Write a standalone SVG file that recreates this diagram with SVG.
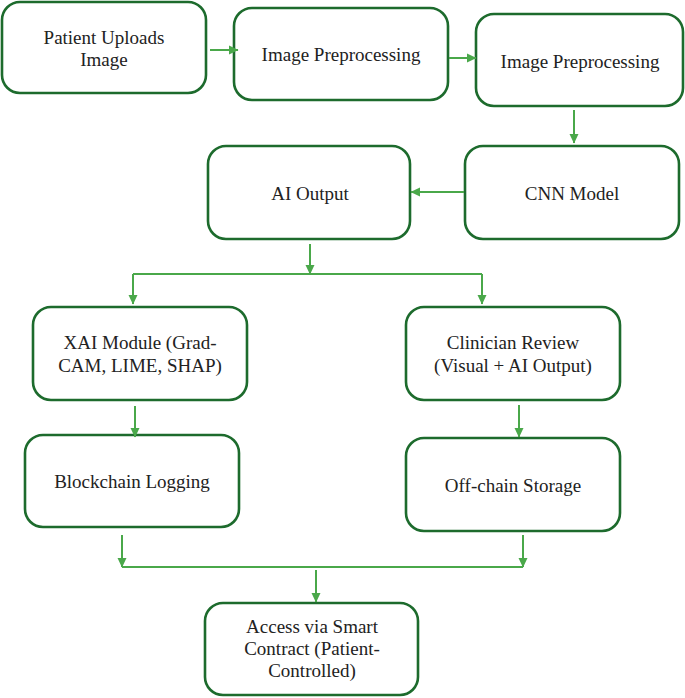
<svg xmlns="http://www.w3.org/2000/svg" width="685" height="698" viewBox="0 0 685 698">
<defs>
<marker id="ah" markerWidth="10" markerHeight="10" refX="9" refY="5" orient="auto" markerUnits="userSpaceOnUse">
<path d="M0,0.5 L9.5,5 L0,9.5 Z" fill="#4aa84a"/>
</marker>
</defs>
<style>
.box{fill:#fff;stroke:#1d6b2d;stroke-width:2.6}
.t{font-size:19px;fill:#222;text-anchor:middle}
.c{fill:none;stroke:#4aa84a;stroke-width:2}
.a{marker-end:url(#ah)}
</style>
<rect width="685" height="698" fill="#fff"/>
<g font-family="'Liberation Serif', Tinos, 'Times New Roman', 'DejaVu Serif', serif">
<g id="n1"><rect class="box" x="2" y="2" width="204" height="91" rx="18"/><text class="t" x="104" y="44">Patient Uploads</text><text class="t" x="104" y="66">Image</text></g>
<g id="n2"><rect class="box" x="234" y="8" width="214" height="92" rx="18"/><text class="t" x="341" y="61">Image Preprocessing</text></g>
<g id="n3"><rect class="box" x="476" y="14" width="207" height="92" rx="18"/><text class="t" x="580" y="68">Image Preprocessing</text></g>
<g id="n4"><rect class="box" x="465" y="146" width="214" height="93" rx="18"/><text class="t" x="572" y="200">CNN Model</text></g>
<g id="n5"><rect class="box" x="208" y="146" width="202" height="93" rx="18"/><text class="t" x="310" y="200">AI Output</text></g>
<g id="n6"><rect class="box" x="33" y="307" width="214" height="93" rx="18"/><text class="t" x="140" y="349">XAI Module (Grad-</text><text class="t" x="140" y="372">CAM, LIME, SHAP)</text></g>
<g id="n7"><rect class="box" x="406" y="307" width="214" height="93" rx="18"/><text class="t" x="513" y="349">Clinician Review</text><text class="t" x="513" y="372">(Visual + AI Output)</text></g>
<g id="n8"><rect class="box" x="25" y="435" width="214" height="92" rx="18"/><text class="t" x="132" y="488">Blockchain Logging</text></g>
<g id="n9"><rect class="box" x="406" y="438" width="214" height="93" rx="18"/><text class="t" x="513" y="492">Off-chain Storage</text></g>
<g id="n10"><rect class="box" x="205" y="603" width="213" height="92" rx="18"/><text class="t" x="312" y="633">Access via Smart</text><text class="t" x="312" y="655">Contract (Patient-</text><text class="t" x="312" y="677">Controlled)</text></g>
</g>
<g id="connectors">
<path class="c a" d="M210,50 H238"/>
<path class="c a" d="M449,58 H476"/>
<path class="c a" d="M574,110 V143"/>
<path class="c a" d="M464,192 H411"/>
<path class="c a" d="M310,244 V274"/>
<path class="c" d="M133,274 H482" stroke-width="1.6"/>
<path class="c a" d="M133,274 V304"/>
<path class="c a" d="M482,274 V304"/>
<path class="c a" d="M135,406 V437"/>
<path class="c a" d="M519,405 V437"/>
<path class="c a" d="M122,535 V567"/>
<path class="c a" d="M523,535 V567"/>
<path class="c" d="M122,567 H523" stroke-width="1.6"/>
<path class="c a" d="M316,570 V602"/>
</g>
</svg>
